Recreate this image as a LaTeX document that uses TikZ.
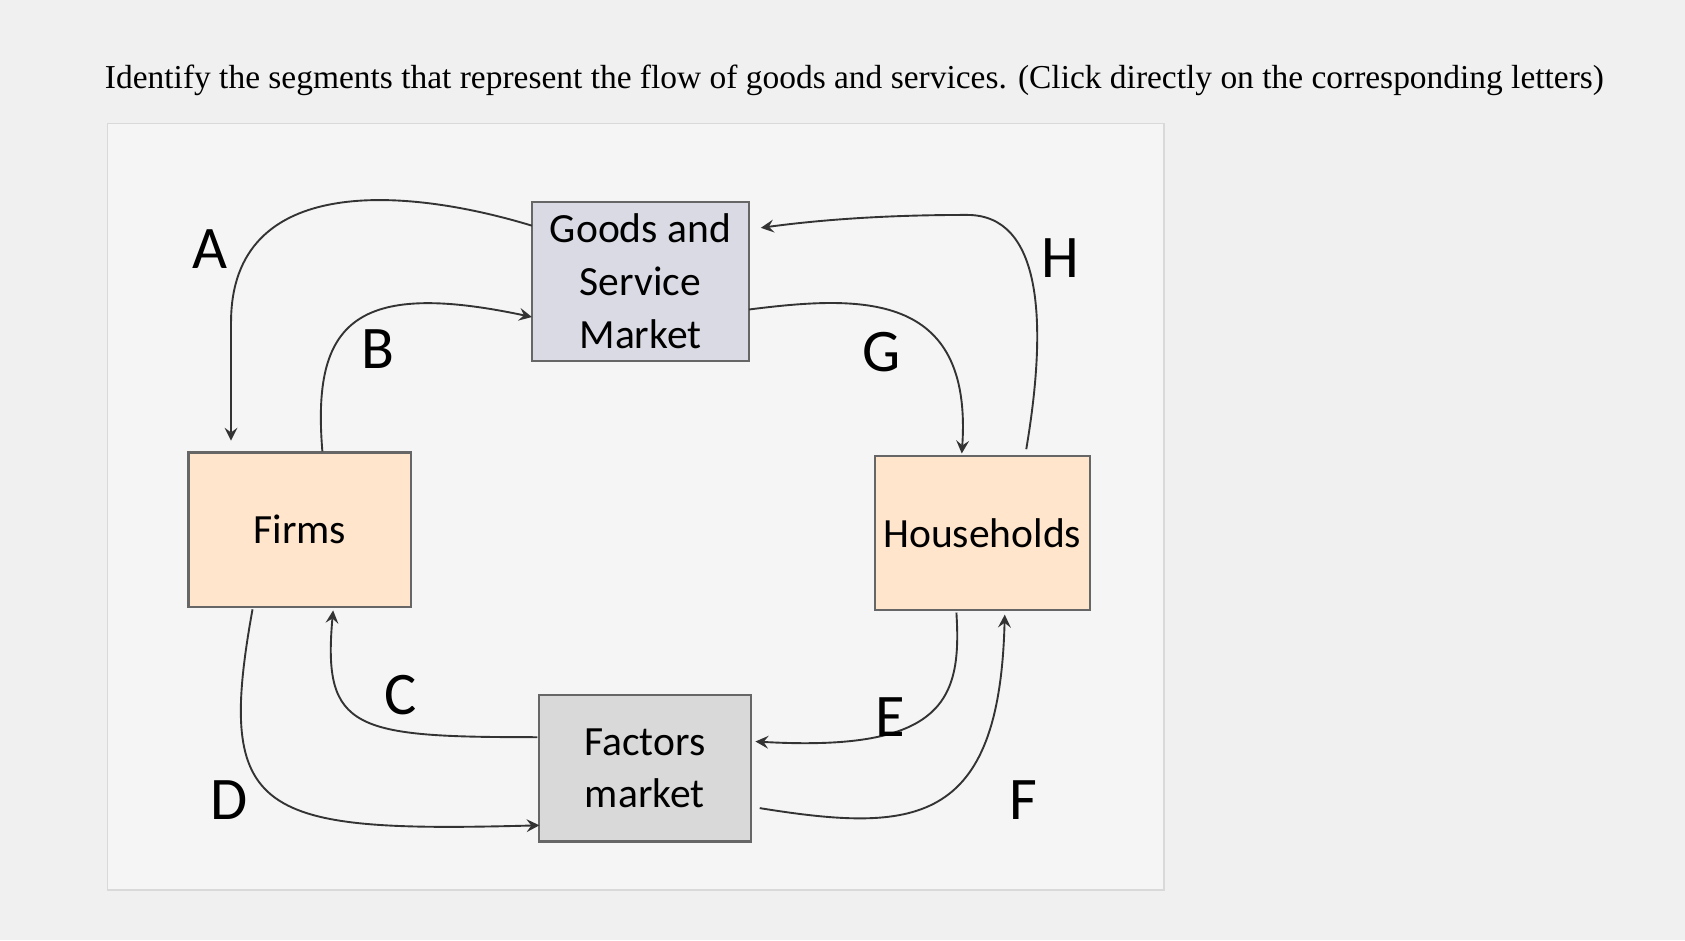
\documentclass[tikz,border=0pt]{standalone}
\usepackage{fontspec}
\setmainfont{Liberation Serif}
\newfontfamily\carl{Carlito}
\begin{document}
\begin{tikzpicture}[x=0.01cm,y=-0.01cm,
 box/.style={draw=gray!80!black,line width=0.6pt,inner sep=0pt,align=center,font=\carl\fontsize{11}{14}\selectfont},
 lab/.style={font=\carl\fontsize{16}{18}\selectfont},
 flow/.style={gray!40!black,line width=0.5pt,-stealth}]
\fill[gray!12] (0,0) rectangle (1568,875);
\useasboundingbox (0,0) rectangle (1568,875);
\draw[gray!30,fill=gray!8] (100,115) rectangle (1083,828);
\node[anchor=west,inner sep=0pt,font=\fontsize{8.85}{11}\selectfont] (t) at (97,75) {Identify the segments that represent the flow of goods and services. (Click directly on the corresponding letters)};
\node[box,fill=blue!15!gray!25,minimum width=2.02cm,minimum height=1.48cm] (gs) at (596,262) {Goods and\\Service\\Market};
\node[box,fill=orange!20,minimum width=2.07cm,minimum height=1.44cm] (f) at (279,493) {Firms};
\node[box,fill=orange!20,minimum width=2.0cm,minimum height=1.43cm] (h) at (914,496) {Households};
\node[box,fill=gray!30,minimum width=1.97cm,minimum height=1.36cm] (fm) at (600,715) {Factors\\market};
\coordinate (a1) at (495,210); \coordinate (a2) at (215,410);
\draw[flow] (a1) .. controls (380,175) and (215,160) .. (215,300) -- (a2);
\coordinate (b1) at (300,420); \coordinate (b2) at (495,295);
\draw[flow] (b1) .. controls (290,300) and (330,260) .. (b2);
\coordinate (g1) at (697,288); \coordinate (g2) at (895,422);
\draw[flow] (g1) .. controls (800,275) and (905,270) .. (g2);
\coordinate (h1) at (955,418); \coordinate (h2) at (708,212);
\draw[flow] (h1) .. controls (975,300) and (970,200) .. (900,200) .. controls (820,200) and (760,205) .. (h2);
\coordinate (e1) at (890,570); \coordinate (e2) at (703,690);
\draw[flow] (e1) .. controls (895,650) and (880,700) .. (e2);
\coordinate (f1) at (707,752); \coordinate (f2) at (935,572);
\draw[flow] (f1) .. controls (850,775) and (930,770) .. (f2);
\coordinate (c1) at (500,686); \coordinate (c2) at (310,568);
\draw[flow] (c1) .. controls (330,686) and (300,680) .. (c2);
\coordinate (d1) at (235,567); \coordinate (d2) at (502,768);
\draw[flow] (d1) .. controls (200,760) and (240,775) .. (d2);
\node[lab] (la) at (195,232) {A};
\node[lab] (lb) at (352,325) {B};
\node[lab] (lg) at (820,328) {G};
\node[lab] (lh) at (987,240) {H};
\node[lab] (lc) at (373,647) {C};
\node[lab] (le) at (828,667) {E};
\node[lab] (ld) at (213,745) {D};
\node[lab] (lf) at (952,745) {F};
\end{tikzpicture}
\end{document}
